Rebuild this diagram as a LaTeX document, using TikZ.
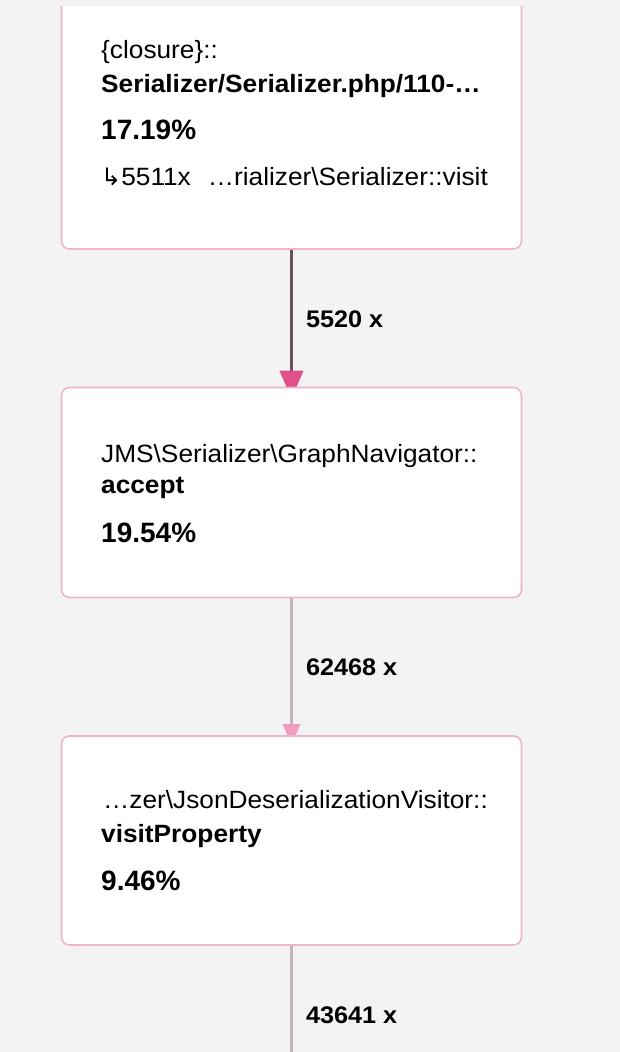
\documentclass[tikz,border=0pt]{standalone}
\usepackage{fontspec}
\setmainfont{Liberation Sans}
\newfontfamily\widefont[FakeStretch=1.05]{Liberation Sans}
\newfontfamily\arrowfont{DejaVu Sans}
\usetikzlibrary{arrows.meta}
\definecolor{bgc}{HTML}{F3F3F3}
\definecolor{boxline}{HTML}{F0B4CA}
\definecolor{edgedark}{HTML}{6E4F5E}
\definecolor{tipdark}{HTML}{E0508A}
\definecolor{edgelight}{HTML}{C2B4BB}
\definecolor{tiplight}{HTML}{F09CC0}
\pgfdeclarelayer{edges}
\pgfdeclarelayer{bottom}
\pgfsetlayers{bottom,edges,main}
\tikzset{
  fnbox/.style={draw=boxline, line width=1.6pt, fill=white, rounded corners=8pt, inner sep=0pt},
  nametxt/.style={anchor=base west, inner sep=0pt, font=\widefont\fontsize{25}{30}\selectfont},
  boldtxt/.style={anchor=base west, inner sep=0pt, font=\widefont\fontsize{25}{30}\selectfont\bfseries},
  pcttxt/.style={anchor=base west, inner sep=0pt, font=\fontsize{28}{33}\selectfont\bfseries},
  cnttxt/.style={anchor=base west, inner sep=0pt, font=\widefont\fontsize{24}{28}\selectfont\bfseries},
  hotedge/.style={draw=edgedark, line width=3pt},
  cooledge/.style={draw=edgelight, line width=2.2pt},
}
\begin{document}
\begin{tikzpicture}[x=1pt,y=-1pt]
\begin{pgfonlayer}{bottom}
\fill[bgc] (0,0) rectangle (620,1052);
\end{pgfonlayer}
\useasboundingbox (0,0) rectangle (620,1052);
% boxes
\begin{scope}
\clip (0,6) rectangle (620,1052);
\node[fnbox, minimum width=460pt, minimum height=263pt] (b1) at (291.5,117.5) {};
\end{scope}
\node[fnbox, minimum width=460pt, minimum height=210pt] (b2) at (291.5,492.5) {};
\node[fnbox, minimum width=460pt, minimum height=209pt] (b3) at (291.5,840.5) {};
\coordinate (endc) at (291.5,1052);
% texts box1
\node[nametxt] (t1a) at (101,58) {\{closure\}::};
\node[boldtxt] (t1b) at (101,92) {Serializer/Serializer.php/110-…};
\node[pcttxt] (t1c) at (101,139) {17.19\%};
\node[nametxt] (t1d) at (101,185) {{\arrowfont\fontsize{24}{28}\selectfont↳}5511x\hspace{17pt}…rializer\textbackslash Serializer::visit};
% texts box2
\node[nametxt] (t2a) at (101,462) {JMS\textbackslash Serializer\textbackslash GraphNavigator::};
\node[boldtxt] (t2b) at (101,493) {accept};
\node[pcttxt] (t2c) at (101,542) {19.54\%};
% texts box3
\node[nametxt] (t3a) at (103,808) {…zer\textbackslash JsonDeserializationVisitor::};
\node[boldtxt] (t3b) at (101,842) {visitProperty};
\node[pcttxt] (t3c) at (101,890) {9.46\%};
% edges
\begin{pgfonlayer}{edges}
\draw[hotedge] (b1.south) -- ([yshift=15pt]b2.north);
\fill[tipdark] ([xshift=-12pt,yshift=16pt]b2.north) -- ([xshift=12pt,yshift=16pt]b2.north) -- ([yshift=-12pt]b2.north) -- cycle;
\draw[cooledge] (b2.south) -- ([yshift=10pt]b3.north);
\fill[tiplight] ([xshift=-9pt,yshift=11pt]b3.north) -- ([xshift=9pt,yshift=11pt]b3.north) -- ([yshift=-9pt]b3.north) -- cycle;
\draw[cooledge] (b3.south) -- (endc);
\end{pgfonlayer}
% labels
\node[cnttxt] (l1) at (306,327) {5520 x};
\node[cnttxt] (l2) at (306,675) {62468 x};
\node[cnttxt] (l3) at (306,1023) {43641 x};
\end{tikzpicture}
\end{document}
